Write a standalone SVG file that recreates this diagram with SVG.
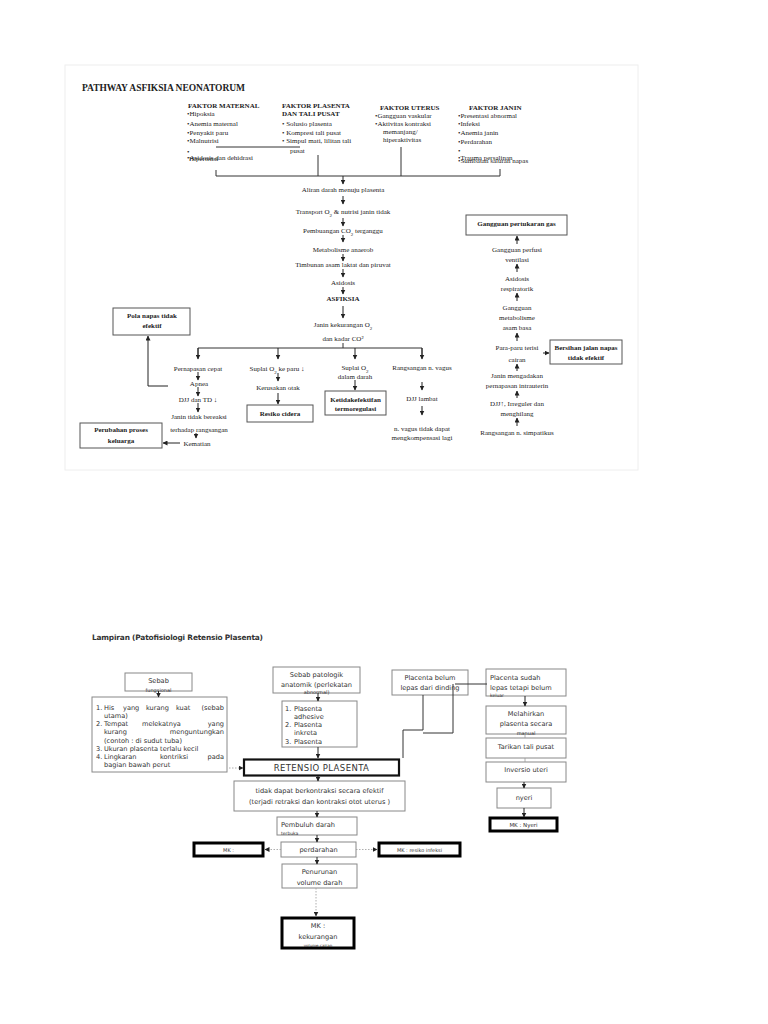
<svg xmlns="http://www.w3.org/2000/svg" width="768" height="1024" viewBox="0 0 768 1024">
<style>
.t{font-family:"Liberation Serif",serif;font-size:7px;fill:#222}
.c{text-anchor:middle}
.e{text-anchor:end}
.b{font-weight:bold}
.s{font-family:"DejaVu Sans","Liberation Sans",sans-serif;font-size:6.6px;fill:#333}
.bx{fill:#fff;stroke:#555;stroke-width:1}
.gb{fill:#fff;stroke:#888;stroke-width:1}
.tk{fill:#fff;stroke:#000;stroke-width:3}
.ln{fill:none;stroke:#333;stroke-width:1}
.gl{fill:none;stroke:#999;stroke-width:0.8}
.ar{fill:none;stroke:#222;stroke-width:1;marker-end:url(#ah)}
.ga{fill:none;stroke:#999;stroke-width:0.8;stroke-dasharray:1.5 1.5;marker-end:url(#ah)}
</style>
<defs>
<marker id="ah" markerWidth="5" markerHeight="5" refX="4.5" refY="2.5" orient="auto" markerUnits="userSpaceOnUse"><path d="M0,0 L5,2.5 L0,5 z" fill="#222"/></marker>
</defs>
<rect width="768" height="1024" fill="#fff"/>
<rect x="65" y="65" width="573" height="405" fill="none" stroke="#eee" stroke-width="1"/>

<!-- TOP DIAGRAM -->
<text x="82" y="90.5" class="t b" style="font-size:9.5px" textLength="163">PATHWAY ASFIKSIA NEONATORUM</text>

<g id="faktor-maternal">
<text x="188" y="107.5" class="t b">FAKTOR MATERNAL</text>
<text x="187" y="115.5" class="t">•Hipoksia</text>
<text x="187" y="125.5" class="t">•Anemia maternal</text>
<text x="187" y="134.5" class="t">•Penyakit paru</text>
<text x="187" y="142.5" class="t">•Malnutrisi</text>
<text x="187" y="153.5" class="t">•</text>
<text x="187" y="159.5" class="t">•Asidosis dan dehidrasi</text>
<text x="189" y="161" class="t">Hipertensi</text>
</g>
<g id="faktor-plasenta">
<text x="282" y="107.5" class="t b">FAKTOR PLASENTA</text>
<text x="282" y="115.5" class="t b">DAN TALI PUSAT</text>
<text x="282" y="125.5" class="t">• Solusio plasenta</text>
<text x="282" y="134.5" class="t">• Kompresi tali pusat</text>
<text x="282" y="142.5" class="t">• Simpul mati, lilitan tali</text>
<text x="290" y="152.5" class="t">pusat</text>
</g>
<g id="faktor-uterus">
<text x="380" y="109.5" class="t b">FAKTOR UTERUS</text>
<text x="375" y="117.5" class="t">•Gangguan vaskular</text>
<text x="375" y="125.5" class="t">•Aktivitas kontraksi</text>
<text x="383" y="133.5" class="t">memanjang/</text>
<text x="383" y="141.5" class="t">hiperaktivitas</text>
</g>
<g id="faktor-janin">
<text x="469" y="109.5" class="t b">FAKTOR JANIN</text>
<text x="458" y="117.5" class="t">•Presentasi abnormal</text>
<text x="458" y="125.5" class="t">•Infeksi</text>
<text x="458" y="134.5" class="t">•Anemia janin</text>
<text x="458" y="143.5" class="t">•Perdarahan</text>
<text x="458" y="152.5" class="t">•</text>
<text x="458" y="159.5" class="t">•Trauma persalinan</text>
<text x="458" y="162.5" class="t">•Sumbatan saluran napas</text>
</g>

<g id="center-flow">
<text x="343" y="191.5" class="t c">Aliran darah menuju plasenta</text>
<text x="343" y="213.5" class="t c">Transport O<tspan font-size="5" baseline-shift="sub">2</tspan> &amp; nutrisi janin tidak</text>
<text x="343" y="232.5" class="t c">Pembuangan CO<tspan font-size="5" baseline-shift="sub">2</tspan> terganggu</text>
<text x="343" y="251.5" class="t c">Metabolisme anaerob</text>
<text x="343" y="266.5" class="t c">Timbunan asam laktat dan piruvat</text>
<text x="343" y="284.5" class="t c">Asidosis</text>
<text x="343" y="300.5" class="t c b">ASFIKSIA</text>
<text x="343" y="326.5" class="t c">Janin kekurangan O<tspan font-size="5" baseline-shift="sub">2</tspan></text>
<text x="343" y="340.5" class="t c">dan kadar CO²</text>
</g>

<g id="branch-1">
<text x="198" y="370.5" class="t c">Pernapasan cepat</text>
<text x="199" y="385.5" class="t c">Apnea</text>
<text x="198" y="401.5" class="t c">DJJ dan TD ↓</text>
<text x="199" y="418.5" class="t c">Janin tidak bereaksi</text>
<text x="199" y="431.5" class="t c">terhadap rangsangan</text>
<text x="197" y="445.5" class="t c">Kematian</text>
</g>
<g id="pola-napas">
<rect x="113" y="308" width="77" height="27" class="bx"/>
<text x="152" y="318" class="t c b">Pola napas tidak</text>
<text x="152" y="328" class="t c b">efektif</text>
</g>
<g id="perubahan-proses">
<rect x="80" y="423" width="82" height="25" class="bx"/>
<text x="121" y="431.5" class="t c b">Perubahan proses</text>
<text x="121" y="442.5" class="t c b">keluarga</text>
</g>
<g id="branch-2">
<text x="277" y="370.5" class="t c">Suplai O<tspan font-size="5" baseline-shift="sub">2</tspan> ke paru ↓</text>
<text x="278" y="389.5" class="t c">Kerusakan otak</text>
</g>
<g id="resiko-cidera">
<rect x="247" y="405" width="66" height="17" class="bx"/>
<text x="280" y="416" class="t c b">Resiko cidera</text>
</g>
<g id="branch-3">
<text x="355" y="369.5" class="t c">Suplai O<tspan font-size="5" baseline-shift="sub">2</tspan></text>
<text x="355" y="378.5" class="t c">dalam darah</text>
</g>
<g id="termoregulasi">
<rect x="325" y="391" width="61" height="24" class="bx"/>
<text x="355.5" y="401.5" class="t c b">Ketidakefektifan</text>
<text x="355.5" y="410.5" class="t c b">termoregulasi</text>
</g>
<g id="branch-4">
<text x="422" y="369.5" class="t c">Rangsangan n. vagus</text>
<text x="422" y="400.5" class="t c">DJJ lambat</text>
<text x="422" y="430.5" class="t c">n. vagus tidak dapat</text>
<text x="422" y="439.5" class="t c">mengkompensasi lagi</text>
</g>
<g id="gangguan-pertukaran">
<rect x="466" y="215" width="101" height="20" class="bx"/>
<text x="516.5" y="225.5" class="t c b">Gangguan pertukaran gas</text>
</g>
<g id="right-flow">
<text x="517" y="251.5" class="t c">Gangguan perfusi</text>
<text x="517" y="261.5" class="t c">ventilasi</text>
<text x="517" y="280.5" class="t c">Asidosis</text>
<text x="517" y="290.5" class="t c">respiratorik</text>
<text x="517" y="309.5" class="t c">Gangguan</text>
<text x="517" y="319.5" class="t c">metabolisme</text>
<text x="517" y="329.5" class="t c">asam basa</text>
<text x="517" y="349.5" class="t c">Para-paru terisi</text>
<text x="517" y="362" class="t c">cairan</text>
<text x="517" y="377.5" class="t c">Janin mengadakan</text>
<text x="517" y="387.5" class="t c">pernapasan intrauterin</text>
<text x="517" y="405.5" class="t c">DJJ↑, Irreguler dan</text>
<text x="517" y="415.5" class="t c">menghilang</text>
<text x="517" y="434.5" class="t c">Rangsangan n. simpatikus</text>
</g>
<g id="bersihan-jalan-napas">
<rect x="550" y="340" width="72" height="24" class="bx"/>
<text x="586" y="349.5" class="t c b">Bersihan jalan napas</text>
<text x="586" y="359.5" class="t c b">tidak efektif</text>
</g>

<g id="top-connectors">
<polyline points="216,147 300,147" class="ln"/>
<polyline points="216,170 216,176 500,176 500,169" class="ln"/>
<line x1="318" y1="155" x2="318" y2="176" class="ln"/>
<line x1="401" y1="147" x2="401" y2="176" class="ln"/>
<line x1="343" y1="176" x2="343" y2="184" class="ar"/>
<line x1="343" y1="196" x2="343" y2="204" class="ar"/>
<line x1="343" y1="218" x2="343" y2="226" class="ar"/>
<line x1="343" y1="235" x2="343" y2="242" class="ar"/>
<line x1="343" y1="254" x2="343" y2="261" class="ar"/>
<line x1="343" y1="269" x2="343" y2="277" class="ar"/>
<line x1="343" y1="287" x2="343" y2="294" class="ar"/>
<line x1="343" y1="306" x2="343" y2="318" class="ar"/>
<polyline points="343,343 343,348" class="ln"/>
<polyline points="198,357 198,348 422,348 422,357" class="ln"/>
<line x1="198" y1="348" x2="198" y2="359" class="ar"/>
<line x1="278" y1="348" x2="278" y2="359" class="ar"/>
<line x1="355" y1="348" x2="355" y2="359" class="ar"/>
<line x1="422" y1="348" x2="422" y2="359" class="ar"/>
<line x1="198" y1="372" x2="198" y2="380" class="ar"/>
<line x1="198" y1="387" x2="198" y2="396" class="ar"/>
<line x1="198" y1="403" x2="198" y2="412" class="ar"/>
<line x1="196" y1="433" x2="196" y2="438" class="ar"/>
<polyline points="168,386 148,386 148,336" class="ar"/>
<line x1="180" y1="443" x2="163" y2="443" class="ar"/>
<line x1="278" y1="373" x2="278" y2="381" class="ar"/>
<line x1="278" y1="393" x2="278" y2="404" class="ar"/>
<line x1="355" y1="380" x2="355" y2="390" class="ar"/>
<line x1="422" y1="382" x2="422" y2="390" class="ar"/>
<line x1="422" y1="406" x2="422" y2="415" class="ar"/>
<line x1="517" y1="244" x2="517" y2="236" class="ar"/>
<line x1="517" y1="272" x2="517" y2="264" class="ar"/>
<line x1="517" y1="301" x2="517" y2="293" class="ar"/>
<line x1="517" y1="341" x2="517" y2="333" class="ar"/>
<line x1="543" y1="353" x2="549" y2="353" class="ar"/>
<line x1="517" y1="371" x2="517" y2="364" class="ar"/>
<line x1="517" y1="398" x2="517" y2="391" class="ar"/>
<line x1="517" y1="426" x2="517" y2="418" class="ar"/>
</g>

<!-- BOTTOM DIAGRAM -->
<text x="92" y="639.5" class="s" style="font-weight:bold;font-size:7.4px" textLength="171">Lampiran (Patofisiologi Retensio Plasenta)</text>

<g id="sebab-fungsional">
<rect x="125" y="673" width="67" height="18" class="gb"/>
<text x="158.5" y="683" class="s c">Sebab</text>
<text x="158.5" y="692" class="s c" style="font-size:5px">fungsional</text>
</g>
<g id="list-fungsional">
<rect x="92" y="697" width="135" height="75" class="gb"/>
<text x="96" y="709.5" class="s">1.</text>
<text x="104" y="709.5" class="s">His</text>
<text x="123" y="709.5" class="s">yang</text>
<text x="146" y="709.5" class="s">kurang</text>
<text x="176" y="709.5" class="s">kuat</text>
<text x="224" y="709.5" class="s e">(sebab</text>
<text x="104" y="717.5" class="s">utama)</text>
<text x="96" y="725.5" class="s">2.</text>
<text x="104" y="725.5" class="s">Tempat</text>
<text x="142" y="725.5" class="s">melekatnya</text>
<text x="224" y="725.5" class="s e">yang</text>
<text x="104" y="733.5" class="s">kurang</text>
<text x="224" y="733.5" class="s e">menguntungkan</text>
<text x="104" y="742.5" class="s">(contoh : di sudut tuba)</text>
<text x="96" y="750.5" class="s">3.</text>
<text x="104" y="750.5" class="s">Ukuran plasenta terlalu kecil</text>
<text x="96" y="758.5" class="s">4.</text>
<text x="104" y="758.5" class="s">Lingkaran</text>
<text x="160" y="758.5" class="s">kontriksi</text>
<text x="224" y="758.5" class="s e">pada</text>
<text x="104" y="766.5" class="s">bagian bawah perut</text>
</g>
<g id="sebab-patologik">
<rect x="273" y="667" width="87" height="26" class="gb"/>
<text x="316.5" y="676.5" class="s c">Sebab patologik</text>
<text x="316.5" y="686.5" class="s c">anatomik (perlekatan</text>
<text x="316.5" y="694" class="s c" style="font-size:5px">abnormal)</text>
</g>
<g id="list-patologik">
<rect x="282" y="701" width="75" height="46" class="gb"/>
<text x="285" y="710.5" class="s">1.</text>
<text x="294" y="710.5" class="s">Plasenta</text>
<text x="294" y="718.5" class="s">adhesive</text>
<text x="285" y="726.5" class="s">2.</text>
<text x="294" y="726.5" class="s">Plasenta</text>
<text x="294" y="734.5" class="s">inkreta</text>
<text x="285" y="743.5" class="s">3.</text>
<text x="294" y="743.5" class="s">Plasenta</text>
</g>
<g id="placenta-belum">
<rect x="392" y="670" width="76" height="25" class="gb"/>
<text x="430" y="680" class="s c">Placenta belum</text>
<text x="430" y="690" class="s c">lepas dari dinding</text>
</g>
<g id="placenta-sudah">
<rect x="486" y="669" width="80" height="27" class="gb"/>
<text x="490" y="679.5" class="s">Placenta sudah</text>
<text x="490" y="690" class="s">lepas tetapi belum</text>
<text x="490" y="697" class="s" style="font-size:4.5px">keluar</text>
</g>
<g id="melahirkan">
<rect x="486" y="706" width="80" height="28" class="gb"/>
<text x="526" y="715.5" class="s c">Melahirkan</text>
<text x="526" y="725.5" class="s c">plasenta secara</text>
<text x="526" y="734.5" class="s c" style="font-size:5px">manual</text>
</g>
<g id="tarikan">
<rect x="486" y="738" width="80" height="20" class="gb"/>
<text x="526" y="748.5" class="s c">Tarikan tali pusat</text>
</g>
<g id="inversio">
<rect x="486" y="762" width="80" height="20" class="gb"/>
<text x="526" y="771.5" class="s c">Inversio  uteri</text>
</g>
<g id="nyeri">
<rect x="497" y="788" width="54" height="20" class="gb"/>
<text x="524" y="799.5" class="s c">nyeri</text>
</g>
<g id="mk-nyeri">
<rect x="490" y="818" width="67" height="13" class="tk"/>
<text x="523.5" y="827" class="s c" style="font-size:5.5px">MK : Nyeri</text>
</g>
<g id="retensio">
<rect x="244" y="759.5" width="155" height="16" fill="#fff" stroke="#111" stroke-width="2.2"/>
<text x="321.5" y="771" class="s c" style="font-size:8.5px;letter-spacing:0.4px">RETENSIO PLASENTA</text>
</g>
<g id="tidak-dapat">
<rect x="234" y="781" width="171" height="30" class="gb"/>
<text x="319.5" y="792.5" class="s c">tidak dapat berkontraksi secara efektif</text>
<text x="319.5" y="803.5" class="s c">(terjadi retraksi dan kontraksi otot uterus )</text>
</g>
<g id="pembuluh">
<rect x="277" y="817" width="80" height="18" class="gb"/>
<text x="281" y="826.5" class="s">Pembuluh darah</text>
<text x="281" y="835" class="s" style="font-size:4.5px">terbuka</text>
</g>
<g id="perdarahan">
<rect x="281" y="842" width="75" height="15" class="gb"/>
<text x="318.5" y="851.5" class="s c">perdarahan</text>
</g>
<g id="mk-left">
<rect x="194" y="843" width="69" height="13" class="tk"/>
<text x="228.5" y="851.5" class="s c" style="font-size:5px">MK :</text>
</g>
<g id="mk-resiko">
<rect x="379" y="843" width="81" height="13" class="tk"/>
<text x="419.5" y="851.5" class="s c" style="font-size:5px">MK : resiko infeksi</text>
</g>
<g id="penurunan">
<rect x="282" y="864" width="75" height="24" class="gb"/>
<text x="319.5" y="874" class="s c">Penurunan</text>
<text x="319.5" y="884.5" class="s c">volume darah</text>
</g>
<g id="mk-kekurangan">
<rect x="282" y="918" width="72" height="30" class="tk"/>
<text x="318" y="928" class="s c">MK :</text>
<text x="318" y="939" class="s c">kekurangan</text>
<text x="318" y="947" class="s c" style="font-size:4px">volume cairan</text>
</g>

<g id="bottom-connectors">
<line x1="158.5" y1="691" x2="158.5" y2="697" class="ar"/>
<line x1="229" y1="768" x2="243" y2="768" class="ga"/>
<line x1="318" y1="693" x2="318" y2="701" class="ar"/>
<line x1="318" y1="747" x2="318" y2="758" class="ar"/>
<polyline points="423,695 423,730 403,730 403,758" class="ln"/>
<polyline points="455,684 487,684" class="ln"/>
<polyline points="453,684 453,733 423,733" class="ln"/>
<line x1="318" y1="776" x2="318" y2="781" class="ar"/>
<line x1="317" y1="811" x2="317" y2="817" class="ar"/>
<line x1="317" y1="835" x2="317" y2="842" class="ar"/>
<line x1="281" y1="849.5" x2="265" y2="849.5" class="ga"/>
<line x1="356" y1="849.5" x2="377" y2="849.5" class="ga"/>
<line x1="317" y1="857" x2="317" y2="864" class="ar"/>
<line x1="316" y1="888" x2="316" y2="916" class="ga"/>
<line x1="525" y1="696" x2="525" y2="706" class="ar"/>
<line x1="525" y1="734" x2="525" y2="738" class="gl"/>
<line x1="525" y1="758" x2="525" y2="762" class="gl"/>
<line x1="524" y1="782" x2="524" y2="788" class="ar"/>
<line x1="524" y1="808" x2="524" y2="817" class="ar"/>
</g>
</svg>
